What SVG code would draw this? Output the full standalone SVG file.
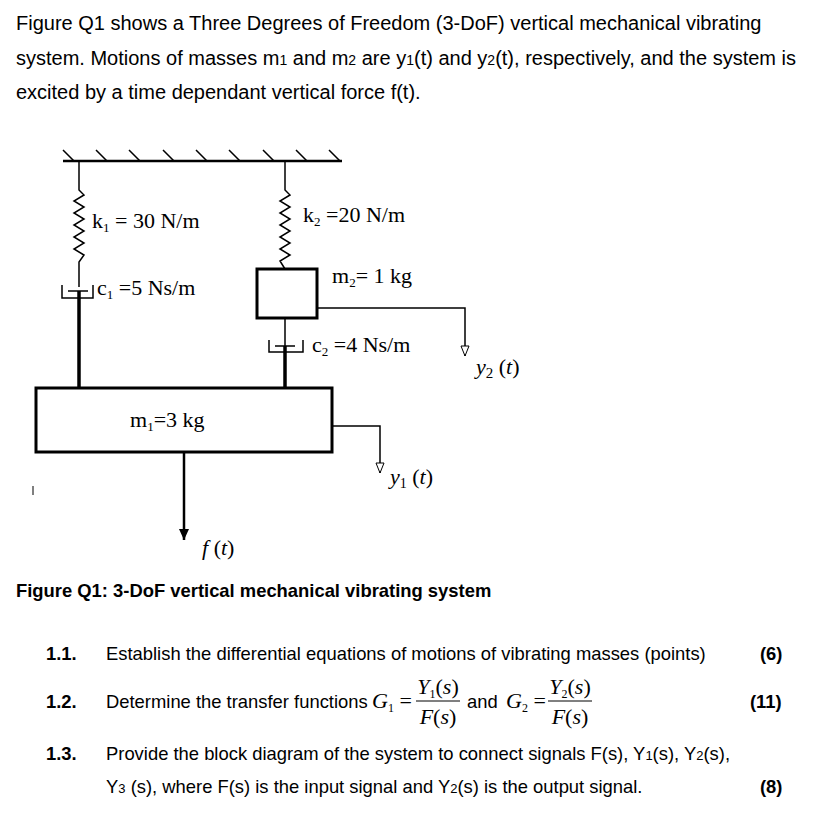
<svg xmlns="http://www.w3.org/2000/svg" width="838" height="822" viewBox="0 0 838 822">
<style>
.t{font-family:"Liberation Sans",Arial,sans-serif;font-size:18.4px;fill:#000}
.p{font-size:20px}
.b{font-weight:bold}
.s{font-family:"Liberation Serif","Times New Roman",serif;font-size:22px;fill:#000}
.i{font-style:italic}
.ln{stroke:#000;stroke-width:1.5;fill:none}
.th{stroke:#000;stroke-width:3.5;fill:none}
</style>
<defs>
<marker id="ho" markerWidth="12" markerHeight="10" refX="11" refY="5" orient="auto" markerUnits="userSpaceOnUse"><path d="M1,1 L11,5 L1,9 Z" fill="#fff" stroke="#000"/></marker>
<marker id="fa" markerWidth="12" markerHeight="10" refX="11" refY="5" orient="auto" markerUnits="userSpaceOnUse"><path d="M0,0 L11,5 L0,10 Z" fill="#000"/></marker>
</defs>
<rect width="838" height="822" fill="#fff"/>
<text class="t p" x="16" y="30">Figure Q1 shows a Three Degrees of Freedom (3-DoF) vertical mechanical vibrating</text>
<text class="t p" x="16" y="65">system. Motions of masses m<tspan font-size="14">1</tspan> and m<tspan font-size="14">2</tspan> are y<tspan font-size="14">1</tspan>(t) and y<tspan font-size="14">2</tspan>(t), respectively, and the system is</text>
<text class="t p" x="16" y="99">excited by a time dependant vertical force f(t).</text>
<g id="ground" class="ln">
<line x1="63" y1="161" x2="342" y2="161" stroke-width="2.5"/>
<path d="M63,150 L74,161 M96,150 L107,161 M129,150 L140,161 M163,150 L174,161 M196,150 L207,161 M229,150 L240,161 M263,150 L274,161 M296,150 L307,161 M329,150 L340,161"/>
</g>
<g id="k1"><path class="ln" d="M79,161 V190 L84,195 L74,201 L84,207 L74,213 L84,219 L74,225 L84,231 L74,237 L84,243 L74,249 L84,255 L79,262 V287"/>
<text class="s" x="92" y="228">k<tspan font-size="13" dy="4">1</tspan><tspan dy="-4"> = 30 N/m</tspan></text></g>
<g id="c1"><path class="ln" d="M62,285 V298 H93 V285 M68,291 H88"/><line class="th" x1="79" y1="291" x2="79" y2="388"/>
<text class="s" x="97" y="295">c<tspan font-size="13" dy="4">1</tspan><tspan dy="-4"> =5 Ns/m</tspan></text></g>
<g id="k2"><path class="ln" d="M285,161 V190 L290,195 L280,201 L290,207 L280,213 L290,219 L280,225 L290,231 L280,237 L290,243 L280,249 L290,255 L280,261 L285,269"/>
<text class="s" x="303" y="222">k<tspan font-size="13" dy="4">2</tspan><tspan dy="-4"> =20 N/m</tspan></text></g>
<g id="m2"><rect x="257" y="269" width="60" height="49" fill="#fff" stroke="#000" stroke-width="3"/>
<text class="s" x="332" y="283">m<tspan font-size="13" dy="4">2</tspan><tspan dy="-4">= 1 kg</tspan></text></g>
<g id="c2"><path class="ln" d="M285,318 V346 M269,340 V352 H303 V340 M275,346 H295"/><line class="th" x1="285" y1="346" x2="285" y2="388"/>
<text class="s" x="312" y="352">c<tspan font-size="13" dy="4">2</tspan><tspan dy="-4"> =4 Ns/m</tspan></text></g>
<g id="m1"><rect x="36" y="388" width="296" height="64" fill="#fff" stroke="#000" stroke-width="3"/>
<text class="s" x="130" y="427">m<tspan font-size="13" dy="4">1</tspan><tspan dy="-4">=3 kg</tspan></text></g>
<g id="connectors">
<path class="ln" d="M317,308 H465 V356" stroke-width="1" marker-end="url(#ho)"/>
<path class="ln" d="M332,426 H380 V473" stroke-width="1" marker-end="url(#ho)"/>
<path d="M184,452 V540" stroke="#000" stroke-width="2.5" marker-end="url(#fa)"/>
</g>
<text class="s i" x="476" y="374" font-size="24">y<tspan font-size="15" dy="4" font-style="normal">2</tspan><tspan dy="-4" font-style="normal"> (</tspan>t<tspan font-style="normal">)</tspan></text>
<text class="s i" x="390" y="484" font-size="22">y<tspan font-size="14" dy="4" font-style="normal">1</tspan><tspan dy="-4" font-style="normal"> (</tspan>t<tspan font-style="normal">)</tspan></text>
<text class="s i" x="202" y="555" font-size="24">f<tspan font-style="normal"> (</tspan>t<tspan font-style="normal">)</tspan></text>
<line x1="33" y1="486" x2="33" y2="495" stroke="#000" stroke-width="1"/>
<text class="t b" x="16" y="597">Figure Q1: 3-DoF vertical mechanical vibrating system</text>
<text class="t b" x="46" y="660">1.1.</text>
<text class="t" x="106" y="660">Establish the differential equations of motions of vibrating masses (points)</text>
<text class="t b" x="760" y="660">(6)</text>
<text class="t b" x="46" y="708">1.2.</text>
<text class="t" x="106" y="708">Determine the transfer functions</text>
<text class="s i" x="372" y="708" font-size="20">G<tspan font-size="12" dy="4" font-style="normal">1</tspan><tspan dy="-4" font-style="normal"> =</tspan></text>
<text class="s i" x="438" y="694" font-size="20" text-anchor="middle">Y<tspan font-size="12" dy="4" font-style="normal">1</tspan><tspan dy="-4" font-style="normal">(</tspan>s<tspan font-style="normal">)</tspan></text>
<line x1="416" y1="701" x2="460" y2="701" stroke="#000" stroke-width="1"/>
<text class="s i" x="438" y="724" font-size="20" text-anchor="middle">F<tspan font-style="normal">(</tspan>s<tspan font-style="normal">)</tspan></text>
<text class="t" x="467" y="708">and</text>
<text class="s i" x="506" y="708" font-size="20">G<tspan font-size="12" dy="4" font-style="normal">2</tspan><tspan dy="-4" font-style="normal"> =</tspan></text>
<text class="s i" x="570" y="694" font-size="20" text-anchor="middle">Y<tspan font-size="12" dy="4" font-style="normal">2</tspan><tspan dy="-4" font-style="normal">(</tspan>s<tspan font-style="normal">)</tspan></text>
<line x1="548" y1="701" x2="592" y2="701" stroke="#000" stroke-width="1"/>
<text class="s i" x="570" y="724" font-size="20" text-anchor="middle">F<tspan font-style="normal">(</tspan>s<tspan font-style="normal">)</tspan></text>
<text class="t b" x="750" y="708">(11)</text>
<text class="t b" x="46" y="760">1.3.</text>
<text class="t" x="106" y="760">Provide the block diagram of the system to connect signals F(s), Y<tspan font-size="13">1</tspan>(s), Y<tspan font-size="13">2</tspan>(s),</text>
<text class="t" x="106" y="793">Y<tspan font-size="13">3</tspan> (s), where F(s) is the input signal and Y<tspan font-size="13">2</tspan>(s) is the output signal.</text>
<text class="t b" x="760" y="793">(8)</text>
</svg>
